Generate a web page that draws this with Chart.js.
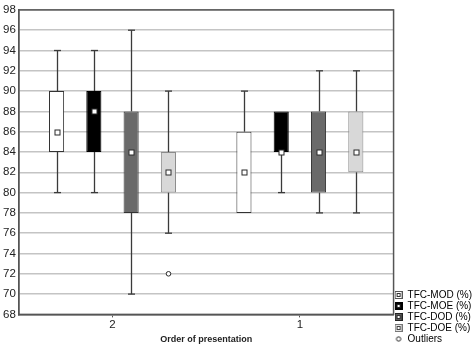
<!DOCTYPE html>
<html>
<head>
<meta charset="utf-8">
<script src="https://cdn.jsdelivr.net/npm/chart.js@4/dist/chart.umd.min.js"></script>
<style>
html,body{margin:0;padding:0;background:#fff;}
#wrap{width:474px;height:351px;}
</style>
</head>
<body>
<div id="wrap"><canvas id="c" width="474" height="351"></canvas></div>
<script>
// ---- data ----
const categories = ['2', '1'];
const seriesNames = ['TFC-MOD (%)', 'TFC-MOE (%)', 'TFC-DOD (%)', 'TFC-DOE (%)'];
// five-number summaries per category: [min, q1, median, q3, max]
const tfcMOD = [[80, 84, 86, 90, 94], [78, 78, 82, 86, 90]];
const tfcMOE = [[80, 84, 88, 90, 94], [80, 84, 84, 88, 88]];
const tfcDOD = [[70, 78, 84, 88, 96], [78, 80, 84, 88, 92]];
const tfcDOE = [[76, 80, 82, 84, 90], [78, 82, 84, 88, 92]];
const outliersMOD = [[], []];
const outliersMOE = [[], []];
const outliersDOD = [[], []];
const outliersDOE = [[72], []];
const yMin = 68, yMax = 98, yStep = 2;

const summaries = [tfcMOD, tfcMOE, tfcDOD, tfcDOE];
const outliers = [outliersMOD, outliersMOE, outliersDOD, outliersDOE];
const fills = ['#ffffff', '#000000', '#6a6a6a', '#d8d8d8'];
const borders = ['#333333', '#000000', '#333333', '#8a8a8a'];

function makeIcon(fill, border, inner) {
  const c = document.createElement('canvas');
  c.width = 8; c.height = 8;
  const g = c.getContext('2d');
  g.fillStyle = fill; g.fillRect(0.5, 0.5, 7, 7);
  g.strokeStyle = border; g.lineWidth = 1; g.strokeRect(0.5, 0.5, 7, 7);
  g.fillStyle = '#ffffff'; g.fillRect(2.5, 2.5, 3, 3);
  g.strokeStyle = inner; g.strokeRect(2.5, 2.5, 3, 3);
  return c;
}
function makeCircleIcon() {
  const c = document.createElement('canvas');
  c.width = 8; c.height = 8;
  const g = c.getContext('2d');
  g.fillStyle = '#fff'; g.strokeStyle = '#333'; g.lineWidth = 1;
  g.beginPath(); g.arc(4, 4, 2.2, 0, Math.PI * 2); g.fill(); g.stroke();
  return c;
}
const icons = [
  makeIcon('#ffffff', '#555', '#333'),
  makeIcon('#000000', '#000', '#222'),
  makeIcon('#5e5e5e', '#222', '#333'),
  makeIcon('#e4e4e4', '#777', '#444'),
  makeCircleIcon()
];

const datasets = summaries.map((s, i) => ({
  label: seriesNames[i],
  data: s.map(v => [v[1], v[3]]),
  backgroundColor: fills[i],
  borderColor: borders[i],
  borderWidth: 1,
  borderSkipped: false,
  categoryPercentage: 0.796,
  barPercentage: 0.405
}));

const boxPlugin = {
  id: 'boxExtras',
  beforeDatasetsDraw(chart) {
    const ctx = chart.ctx, y = chart.scales.y;
    ctx.save();
    ctx.strokeStyle = '#3a3a3a';
    ctx.lineWidth = 1.3;
    summaries.forEach((s, i) => {
      const meta = chart.getDatasetMeta(i);
      meta.data.forEach((el, j) => {
        const v = s[j];
        const x = Math.round(el.x) + 0.5;
        [[v[0], v[1]], [v[3], v[4]]].forEach(([a, b]) => {
          if (a === b) return;
          ctx.beginPath();
          ctx.moveTo(x, y.getPixelForValue(a));
          ctx.lineTo(x, y.getPixelForValue(b));
          ctx.stroke();
        });
        [v[0], v[4]].forEach((w, k) => {
          const edge = k === 0 ? v[1] : v[3];
          if (w === edge) return;
          const py = y.getPixelForValue(w);
          ctx.beginPath();
          ctx.moveTo(x - 3.5, py);
          ctx.lineTo(x + 3.5, py);
          ctx.stroke();
        });
      });
    });
    ctx.restore();
  },
  afterDatasetsDraw(chart) {
    const ctx = chart.ctx, y = chart.scales.y;
    ctx.save();
    summaries.forEach((s, i) => {
      const meta = chart.getDatasetMeta(i);
      meta.data.forEach((el, j) => {
        const x = Math.round(el.x) + 0.5;
        const py = Math.round(y.getPixelForValue(s[j][2])) + 0.5;
        ctx.fillStyle = '#ffffff';
        ctx.strokeStyle = '#2a2a2a';
        ctx.lineWidth = 1;
        ctx.fillRect(x - 2.5, py - 2.5, 5, 5);
        ctx.strokeRect(x - 2.5, py - 2.5, 5, 5);
        outliers[i][j].forEach(o => {
          const oy = y.getPixelForValue(o);
          ctx.beginPath();
          ctx.arc(x, oy, 2.3, 0, Math.PI * 2);
          ctx.fill();
          ctx.stroke();
        });
      });
    });
    const a = chart.chartArea;
    ctx.strokeStyle = '#555';
    ctx.lineWidth = 1.5;
    ctx.strokeRect(a.left, a.top, a.right - a.left, a.bottom - a.top);
    ctx.restore();
  }
};

new Chart(document.getElementById('c'), {
  type: 'bar',
  data: { labels: categories, datasets },
  plugins: [boxPlugin],
  options: {
    responsive: false,
    animation: false,
    layout: { padding: { left: 0, top: 0, right: -8, bottom: 6 } },
    plugins: {
      tooltip: { enabled: false },
      legend: {
        position: 'right',
        align: 'end',
        labels: {
          usePointStyle: true,
          pointStyleWidth: 8,
          boxHeight: 8,
          padding: 1,
          color: '#222',
          font: { family: 'Liberation Sans, Arial, sans-serif', size: 10 },
          generateLabels() {
            const names = seriesNames.concat(['Outliers']);
            return names.map((n, i) => ({
              text: n,
              pointStyle: icons[i],
              fillStyle: '#fff',
              strokeStyle: '#fff',
              lineWidth: 0,
              hidden: false,
              datasetIndex: i
            }));
          }
        }
      }
    },
    scales: {
      x: {
        offset: true,
        grid: { display: true, drawOnChartArea: false, offset: false, tickLength: 3, color: '#555' },
        border: { color: '#555', width: 1.5 },
        ticks: { color: '#222', font: { family: 'Liberation Sans, Arial, sans-serif', size: 11.5 }, padding: 1 },
        title: {
          display: true,
          text: 'Order of presentation',
          color: '#222',
          font: { family: 'Liberation Sans, Arial, sans-serif', size: 9, weight: 'bold' },
          padding: { top: 1, bottom: 0 }
        }
      },
      y: {
        min: yMin,
        max: yMax,
        grid: { color: '#c4c4c4', lineWidth: 1.5, drawTicks: false },
        border: { color: '#555', width: 1.5 },
        ticks: { stepSize: yStep, color: '#222', font: { family: 'Liberation Sans, Arial, sans-serif', size: 11.5 }, padding: 3 }
      }
    }
  }
});
</script>
</body>
</html>
